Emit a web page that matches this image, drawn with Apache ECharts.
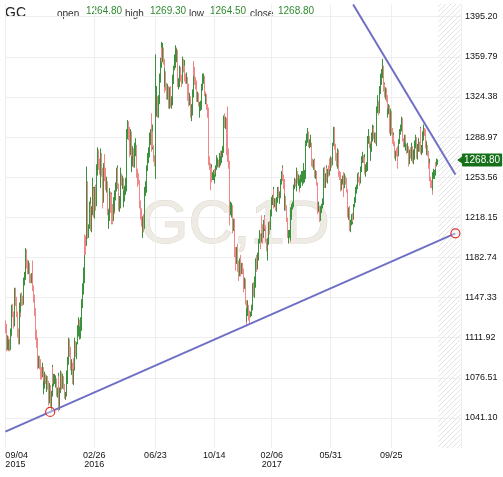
<!DOCTYPE html>
<html>
<head>
<meta charset="utf-8">
<script src="https://cdn.jsdelivr.net/npm/echarts@6/dist/echarts.min.js"></script>
<style>
html, body { margin: 0; padding: 0; background: #fff; }
#main { width: 503px; height: 477px; }
</style>
</head>
<body>
<div id="main"></div>
<script>
var symbolName = 'GC';
var watermark = 'GC,1D';
var firstDate = [2015, 9, 4];
var futureSlots = 31;
var holidays = ['2015-09-07', '2015-11-26', '2015-12-25', '2016-01-01', '2016-01-18', '2016-02-15',
    '2016-03-25', '2016-05-30', '2016-07-04', '2016-09-05', '2016-11-24', '2016-12-26', '2017-01-02',
    '2017-01-16', '2017-02-20', '2017-04-14', '2017-05-29', '2017-07-04', '2017-09-04', '2017-11-23',
    '2017-12-25', '2018-01-01', '2018-01-15', '2018-02-19'];
var tickDates = ['2015-09-04', '2016-02-26', '2016-06-23', '2016-10-14', '2017-02-06', '2017-05-31', '2017-09-25'];
var tickLabels = ['09/04\n2015', '02/26\n2016', '06/23', '10/14', '02/06\n2017', '05/31', '09/25'];
var yTicks = [1041.10, 1076.51, 1111.92, 1147.33, 1182.74, 1218.15, 1253.56, 1288.97, 1324.38, 1359.79, 1395.20];

// daily prices, one line per month
var opens = [
    1124,1122,1121,1104,1109,1103,1108,1103,1118,1118,1137,1133,1125,1131,1153,1145,1133,1127,
    1115,1114,1138,1137,1146,1145,1143,1156,1163,1167,1187,1186,1177,1172,1176,1167,1166,1163,1164,1166,1155,1147,
    1141,1136,1115,1106,1105,1089,1092,1089,1086,1082,1081,1084,1068,1070,1077,1076,1068,1075,1072,1057,
    1064,1068,1053,1062,1084,1074,1076,1076,1071,1075,1062,1063,1075,1049,1065,1080,1074,1069,1076,1069,1068,1060,
    1061,1075,1078,1092,1107,1097,1096,1085,1087,1073,1090,1089,1106,1097,1096,1107,1121,1125,1115,
    1118,1128,1128,1141,1157,1163,1198,1197,1195,1247,1237,1208,1210,1227,1227,1209,1224,1239,1241,1221,
    1238,1231,1241,1259,1271,1267,1262,1258,1272,1259,1249,1232,1264,1257,1256,1245,1248,1223,1219,1219,1237,1226,
    1234,1222,1218,1231,1229,1239,1243,1258,1260,1246,1226,1234,1235,1253,1248,1251,1231,1237,1242,1250,1266,
    1290,1295,1290,1280,1274,1294,1264,1265,1277,1264,1272,1274,1278,1256,1254,1252,1249,1228,1224,1222,1212,
    1215,1211,1210,1243,1246,1244,1262,1272,1275,1285,1287,1290,1279,1293,1281,1271,1266,1262,1315,1323,1312,1317,
    1320,1339,1356,1367,1362,1366,1356,1334,1343,1334,1327,1329,1332,1319,1330,1322,1318,1320,1341,1341,
    1350,1354,1366,1362,1363,1335,1335,1346,1349,1340,1338,1342,1356,1350,1351,1341,1339,1341,1328,1325,1321,1324,1317,
    1311,1313,1327,1350,1349,1339,1334,1329,1324,1325,1317,1310,1318,1318,1332,1337,1341,1341,1327,1322,1324,
    1316,1313,1269,1267,1263,1257,1260,1253,1254,1257,1251,1255,1262,1269,1267,1267,1264,1273,1267,1269,1276,
    1277,1289,1308,1302,1305,1281,1276,1274,1266,1226,1221,1225,1226,1216,1208,1214,1213,1188,1178,1190,1189,
    1173,1170,1177,1176,1170,1172,1171,1161,1158,1162,1142,1130,1134,1139,1131,1133,1130,1133,1139,1140,1158,
    1152,1163,1165,1181,1173,1185,1187,1197,1200,1196,1217,1211,1203,1210,1217,1210,1199,1190,1191,1196,
    1212,1209,1220,1220,1232,1236,1242,1228,1234,1229,1229,1233,1242,1238,1236,1237,1250,1257,1259,
    1252,1249,1234,1234,1227,1216,1210,1203,1203,1204,1199,1220,1227,1230,1233,1245,1249,1247,1249,1256,1252,1254,1244,
    1249,1253,1257,1249,1252,1254,1254,1274,1284,1289,1291,1291,1283,1283,1284,1276,1267,1264,1266,
    1268,1255,1257,1248,1228,1227,1227,1217,1219,1225,1228,1232,1237,1258,1246,1254,1261,1251,1259,1257,1268,1262,
    1269,1266,1280,1282,1298,1293,1280,1271,1268,1265,1276,1256,1255,1247,1244,1249,1252,1256,1246,1254,1250,1245,
    1242,1219,1225,1225,1213,1213,1215,1219,1218,1228,1234,1241,1242,1245,1255,1255,1252,1249,1260,1268,
    1269,1271,1269,1270,1258,1262,1262,1276,1284,1290,1283,1273,1279,1288,1291,1296,1289,1290,1287,1297,1315,1318,1313,
    1322,1330,1344,1344,1351,1351,1332,1334,1329,1329,1325,1310,1311,1316,1295,1297,1311,1294,1288,1288,
    1284,1271,1275,1276,1275,1274,1285,1292,1293,1296,1304,1303,1286,1283,1289,1280,1281,1277,1279,1267,1266,1277,
    1271,1277,1278,1269,1275,1276,1282,1285,1274,1278,1278,1283,1278,1296,1276,1276,1292,1288,1296,1293,1283,
    1276,1281,1275,1266,1266,1251,1248,1246,1243,1256,1257,1257,1265,1264,1264.8
];
var highs = [
    1127,1127,1124,1114,1113,1110,1111,1120,1124,1141,1142,1135,1134,1156,1156,1148,1135,1130,
    1120,1143,1142,1151,1152,1149,1158,1165,1170,1191,1190,1189,1181,1180,1178,1170,1168,1167,1169,1180,1158,1150,
    1143,1138,1119,1112,1110,1096,1096,1093,1089,1086,1090,1086,1074,1082,1080,1079,1078,1078,1074,1066,
    1072,1070,1065,1088,1086,1080,1080,1079,1078,1076,1068,1081,1078,1068,1083,1082,1076,1080,1078,1071,1070,1064,
    1083,1082,1095,1112,1111,1104,1098,1093,1090,1093,1094,1112,1109,1101,1108,1123,1130,1128,1122,
    1130,1132,1146,1160,1174,1200,1203,1202,1263,1250,1239,1212,1232,1236,1230,1228,1253,1245,1244,1245,
    1247,1243,1265,1280,1278,1270,1266,1279,1275,1262,1252,1266,1274,1262,1258,1254,1250,1226,1225,1244,1241,1240,
    1239,1230,1236,1234,1242,1249,1262,1264,1262,1248,1237,1239,1262,1257,1255,1253,1242,1246,1253,1269,1296,
    1304,1303,1298,1288,1296,1294,1272,1281,1279,1277,1284,1288,1282,1261,1258,1257,1251,1233,1229,1226,1219,
    1221,1220,1245,1250,1250,1264,1275,1280,1289,1293,1296,1310,1300,1294,1282,1273,1270,1362,1334,1325,1321,1326,
    1345,1359,1373,1368,1372,1368,1358,1350,1347,1337,1333,1336,1334,1333,1334,1326,1325,1344,1343,1352,
    1362,1370,1368,1367,1366,1341,1348,1352,1351,1344,1346,1360,1358,1357,1352,1345,1346,1342,1332,1336,1328,1325,1319,
    1318,1331,1353,1356,1351,1342,1339,1332,1329,1328,1320,1320,1321,1336,1344,1345,1345,1343,1329,1327,1327,
    1318,1315,1275,1272,1266,1265,1262,1258,1260,1261,1256,1264,1273,1271,1270,1269,1275,1277,1272,1277,1281,
    1291,1308,1310,1307,1306,1284,1316,1279,1268,1230,1232,1231,1229,1220,1217,1217,1214,1192,1192,1195,1190,
    1180,1182,1185,1179,1178,1178,1173,1165,1165,1164,1145,1138,1145,1141,1135,1136,1135,1141,1146,1160,1161,
    1166,1167,1182,1185,1187,1189,1199,1207,1204,1219,1220,1212,1216,1220,1219,1211,1199,1196,1200,1214,
    1215,1225,1224,1236,1238,1245,1243,1235,1235,1233,1236,1245,1245,1240,1241,1252,1259,1264,1262,
    1256,1252,1239,1237,1229,1218,1212,1207,1207,1207,1227,1230,1232,1235,1247,1253,1252,1251,1262,1259,1256,1255,1252,
    1256,1259,1259,1259,1266,1260,1275,1286,1292,1297,1293,1294,1287,1291,1284,1278,1270,1269,1270,
    1269,1260,1259,1249,1234,1232,1228,1221,1228,1230,1235,1241,1262,1263,1257,1264,1262,1261,1264,1270,1270,1272,
    1271,1283,1284,1298,1298,1296,1283,1275,1270,1279,1278,1259,1258,1248,1252,1255,1258,1258,1257,1255,1253,1248,
    1243,1227,1228,1228,1216,1221,1221,1222,1230,1236,1242,1245,1247,1257,1258,1257,1254,1263,1270,1272,
    1276,1273,1274,1271,1265,1267,1280,1290,1296,1290,1285,1283,1293,1300,1299,1298,1293,1293,1300,1316,1326,1321,1324,
    1334,1345,1349,1354,1358,1352,1337,1336,1333,1332,1326,1314,1318,1317,1300,1314,1312,1297,1293,1291,
    1285,1277,1279,1279,1281,1287,1295,1296,1300,1307,1306,1304,1288,1291,1291,1284,1283,1284,1281,1271,1278,1280,
    1281,1284,1281,1278,1284,1286,1291,1289,1280,1283,1288,1285,1298,1297,1282,1294,1293,1300,1297,1296,1286,
    1285,1282,1277,1270,1266,1254,1251,1249,1258,1261,1260,1266,1267,1270,1269.3
];
var lows = [
    1116,1116,1100,1101,1100,1101,1100,1101,1113,1114,1130,1120,1122,1129,1140,1130,1123,1112,
    1106,1106,1130,1134,1140,1140,1141,1152,1158,1163,1178,1173,1168,1168,1165,1160,1160,1161,1160,1153,1143,1137,
    1131,1110,1103,1101,1084,1085,1084,1082,1075,1075,1077,1065,1062,1067,1071,1065,1064,1066,1052,1054,
    1059,1051,1046,1060,1071,1069,1071,1068,1068,1060,1059,1060,1047,1048,1063,1071,1066,1067,1066,1062,1058,1057,
    1060,1071,1076,1088,1095,1093,1083,1079,1071,1070,1084,1083,1095,1093,1093,1106,1113,1110,1111,
    1111,1118,1124,1138,1150,1160,1185,1185,1193,1232,1199,1200,1208,1218,1206,1205,1220,1233,1218,1217,
    1224,1228,1239,1255,1260,1256,1256,1244,1254,1246,1226,1231,1250,1248,1242,1240,1220,1211,1208,1215,1222,1222,
    1212,1212,1215,1221,1223,1233,1241,1248,1243,1224,1223,1226,1233,1246,1243,1228,1227,1232,1238,1241,1265,
    1287,1286,1278,1271,1273,1261,1258,1263,1262,1262,1268,1272,1253,1245,1247,1247,1226,1219,1216,1210,1200,
    1205,1205,1208,1237,1240,1240,1259,1266,1271,1282,1282,1276,1278,1280,1267,1263,1252,1252,1307,1306,1306,1313,
    1318,1337,1350,1355,1355,1353,1328,1333,1330,1322,1322,1323,1314,1314,1320,1315,1314,1317,1336,1336,
    1348,1350,1357,1355,1333,1331,1333,1343,1338,1333,1336,1341,1346,1345,1338,1336,1336,1325,1321,1316,1317,1314,1306,
    1303,1308,1324,1343,1335,1331,1325,1320,1320,1316,1308,1306,1312,1313,1330,1333,1336,1325,1318,1318,1313,
    1306,1267,1264,1260,1242,1255,1249,1251,1251,1250,1248,1254,1260,1262,1263,1262,1262,1264,1264,1266,1271,
    1275,1286,1297,1296,1277,1273,1267,1261,1221,1211,1220,1218,1213,1204,1206,1206,1183,1171,1177,1184,1170,
    1162,1166,1169,1166,1168,1168,1158,1152,1155,1141,1122,1126,1131,1127,1127,1124,1130,1131,1136,1138,1148,
    1147,1156,1163,1170,1172,1180,1183,1195,1190,1196,1204,1195,1200,1206,1208,1196,1188,1180,1187,1194,
    1203,1207,1214,1219,1229,1234,1226,1227,1224,1223,1223,1231,1235,1232,1230,1235,1247,1253,1250,
    1243,1231,1224,1224,1214,1208,1200,1195,1200,1196,1198,1216,1225,1227,1231,1243,1245,1241,1246,1248,1246,1240,1243,
    1244,1249,1247,1246,1248,1249,1252,1272,1281,1284,1285,1280,1279,1280,1272,1263,1262,1260,1261,
    1253,1252,1246,1226,1221,1223,1214,1215,1216,1222,1226,1229,1235,1244,1244,1253,1249,1248,1254,1255,1260,1259,
    1262,1264,1277,1281,1288,1278,1268,1263,1262,1261,1254,1251,1245,1241,1242,1247,1249,1236,1244,1247,1242,1240,
    1218,1216,1221,1206,1205,1211,1212,1214,1216,1227,1231,1238,1239,1243,1251,1249,1246,1248,1258,1265,
    1266,1266,1265,1256,1254,1258,1259,1273,1283,1279,1271,1268,1276,1285,1288,1287,1284,1283,1281,1295,1310,1308,1310,
    1318,1327,1335,1341,1344,1329,1326,1324,1322,1320,1308,1306,1309,1292,1290,1295,1291,1283,1281,1281,
    1270,1268,1272,1272,1261,1272,1283,1288,1291,1294,1298,1285,1280,1280,1279,1277,1274,1275,1265,1263,1265,1270,
    1268,1273,1266,1265,1269,1274,1279,1270,1269,1273,1276,1276,1277,1274,1273,1275,1286,1286,1290,1279,1274,
    1273,1272,1261,1261,1250,1244,1244,1238,1242,1252,1252,1255,1261,1263,1264.5
];
var closes = [
    1121,1120,1103,1109,1103,1108,1103,1118,1117,1137,1133,1125,1131,1153,1145,1132,1127,1115,
    1114,1137,1137,1146,1145,1143,1156,1163,1166,1187,1186,1177,1172,1176,1167,1166,1163,1164,1166,1155,1147,1141,
    1136,1115,1106,1105,1088,1092,1089,1086,1082,1081,1084,1068,1070,1077,1076,1068,1075,1072,1057,1064,
    1068,1053,1061,1084,1074,1076,1076,1071,1075,1062,1063,1075,1049,1065,1080,1074,1069,1076,1069,1068,1060,1060,
    1075,1078,1091,1107,1097,1096,1085,1087,1073,1090,1089,1106,1097,1096,1107,1121,1125,1115,1118,
    1128,1128,1141,1157,1158,1198,1197,1195,1247,1239,1208,1210,1227,1231,1209,1224,1239,1241,1221,1238,
    1231,1241,1259,1271,1267,1262,1258,1272,1259,1249,1232,1264,1257,1256,1245,1248,1223,1219,1219,1237,1226,1234,
    1222,1218,1231,1229,1239,1243,1258,1260,1246,1226,1234,1235,1253,1248,1251,1231,1237,1242,1250,1266,1290,
    1295,1290,1280,1274,1294,1264,1265,1277,1264,1272,1274,1278,1256,1254,1252,1249,1228,1224,1222,1212,1215,
    1211,1210,1243,1246,1244,1262,1272,1275,1285,1287,1290,1279,1293,1281,1271,1266,1256,1315,1323,1312,1317,1320,
    1339,1356,1367,1362,1366,1356,1334,1343,1334,1327,1329,1332,1319,1330,1322,1318,1320,1341,1341,1350,
    1354,1366,1362,1363,1335,1335,1346,1349,1340,1338,1342,1356,1350,1351,1341,1339,1341,1328,1325,1321,1324,1317,1311,
    1313,1327,1350,1349,1339,1334,1329,1324,1325,1317,1310,1318,1318,1332,1337,1341,1341,1327,1322,1324,1316,
    1313,1269,1267,1263,1257,1260,1253,1254,1257,1251,1255,1262,1269,1267,1267,1264,1273,1267,1269,1276,1277,
    1289,1308,1302,1305,1281,1276,1274,1266,1226,1221,1225,1226,1216,1208,1214,1213,1188,1178,1190,1189,1173,
    1170,1177,1176,1170,1172,1171,1161,1158,1162,1142,1130,1134,1139,1131,1133,1130,1133,1139,1140,1158,1152,
    1163,1165,1181,1173,1185,1187,1197,1200,1196,1217,1211,1203,1210,1217,1210,1199,1190,1191,1196,1212,
    1209,1220,1220,1232,1236,1242,1228,1234,1229,1229,1233,1242,1238,1236,1237,1250,1257,1259,1252,
    1249,1234,1234,1227,1216,1210,1203,1203,1204,1199,1220,1227,1230,1233,1245,1249,1247,1249,1256,1252,1254,1244,1249,
    1253,1257,1249,1252,1254,1254,1274,1284,1289,1291,1291,1283,1283,1288,1276,1267,1264,1266,1268,
    1255,1257,1248,1228,1227,1227,1217,1219,1225,1228,1232,1237,1258,1246,1254,1261,1251,1259,1257,1268,1262,1269,
    1266,1280,1282,1298,1293,1280,1271,1268,1265,1276,1256,1255,1247,1244,1249,1252,1256,1246,1254,1250,1245,1242,
    1219,1225,1225,1213,1213,1215,1219,1218,1228,1234,1241,1242,1245,1255,1255,1252,1249,1260,1268,1269,
    1271,1269,1270,1258,1262,1262,1276,1284,1290,1283,1273,1279,1288,1291,1296,1289,1290,1287,1297,1315,1318,1313,1322,
    1330,1344,1344,1351,1351,1332,1334,1329,1329,1325,1310,1311,1316,1295,1297,1311,1294,1288,1288,1284,
    1271,1275,1276,1275,1274,1285,1292,1293,1296,1304,1303,1286,1283,1289,1280,1281,1277,1279,1267,1266,1277,1271,
    1277,1278,1269,1275,1276,1282,1285,1274,1278,1278,1283,1278,1296,1276,1276,1292,1288,1296,1293,1283,1276,
    1281,1275,1266,1266,1251,1248,1246,1243,1256,1257,1257,1265,1264,1268,1268.8
];

// trend lines drawn on the chart: [candle index, price]
var lowerTrend = [[0, 1029], [60, 1046.4], [603, 1204]];
var upperTrend = [[466, 1406], [603, 1256]];

function pad(n) { return (n < 10 ? '0' : '') + n; }

var dates = [];
var d = new Date(Date.UTC(firstDate[0], firstDate[1] - 1, firstDate[2]));
while (dates.length < closes.length + futureSlots) {
    var s = d.getUTCFullYear() + '-' + pad(d.getUTCMonth() + 1) + '-' + pad(d.getUTCDate());
    var wd = d.getUTCDay();
    if (wd !== 0 && wd !== 6 && holidays.indexOf(s) < 0) {
        dates.push(s);
    }
    d.setUTCDate(d.getUTCDate() + 1);
}

var tickIdx = tickDates.map(function (t) { return dates.indexOf(t); });
function isTick(i) { return tickIdx.indexOf(i) >= 0; }

var xData = dates.map(function (s, i) {
    return i === 0 ? { value: s, textStyle: { align: 'left' } } : s;
});

var candles = closes.map(function (c, i) {
    var o = opens[i];
    return [o, c, Math.min(lows[i], o, c), Math.max(highs[i], o, c)];
});

// hatched fill for the empty area after the last bar
var hatch = document.createElement('canvas');
hatch.width = 5;
hatch.height = 5;
var hctx = hatch.getContext('2d');
hctx.strokeStyle = '#e3e3e3';
hctx.lineWidth = 1;
hctx.beginPath();
hctx.moveTo(0, 5); hctx.lineTo(5, 0);
hctx.moveTo(-1, 1); hctx.lineTo(1, -1);
hctx.moveTo(4, 6); hctx.lineTo(6, 4);
hctx.stroke();

var last = closes.length - 1;
var upColor = '#3a923f';
var downColor = '#f08789';
var font = 'Liberation Sans, Arial, sans-serif';
var green = '#2f8a2f';
var labelGray = '#333';
var priceBox = '#16701a';

var header = [
    { text: symbolName, x: 5, y: 6, size: 14, color: '#222' },
    { text: 'open', x: 57, y: 9, size: 10, color: labelGray },
    { text: opens[last].toFixed(2), x: 86, y: 6, size: 10, color: green },
    { text: 'high', x: 125, y: 9, size: 10, color: labelGray },
    { text: highs[last].toFixed(2), x: 150, y: 6, size: 10, color: green },
    { text: 'low', x: 189, y: 9, size: 10, color: labelGray },
    { text: lows[last].toFixed(2), x: 210, y: 6, size: 10, color: green },
    { text: 'close', x: 250, y: 9, size: 10, color: labelGray },
    { text: closes[last].toFixed(2), x: 278, y: 6, size: 10, color: green }
];

var graphics = [{
    type: 'text',
    x: 235,
    y: 226,
    z: -10,
    silent: true,
    style: {
        text: watermark,
        font: '62px ' + font,
        fill: '#eeebe5',
        stroke: '#dcd7cd',
        lineWidth: 1,
        textAlign: 'center',
        textVerticalAlign: 'middle',
        align: 'center',
        verticalAlign: 'middle'
    }
}];
header.forEach(function (h) {
    graphics.push({
        type: 'text',
        x: h.x,
        y: h.y,
        silent: true,
        style: {
            text: h.text,
            font: h.size + 'px ' + font,
            fill: h.color,
            textAlign: 'left',
            textVerticalAlign: 'top',
            align: 'left',
            verticalAlign: 'top'
        }
    });
});

var chart = echarts.init(document.getElementById('main'));
var option = {
    animation: false,
    backgroundColor: '#fff',
    grid: { left: 5, right: 42, top: 4, bottom: 29 },
    xAxis: {
        type: 'category',
        data: xData,
        boundaryGap: true,
        axisLine: { show: false },
        axisTick: { show: false },
        axisLabel: {
            interval: isTick,
            formatter: function (value, index) {
                return tickLabels[tickIdx.indexOf(index)];
            },
            fontSize: 9,
            lineHeight: 9,
            fontFamily: font,
            color: '#111',
            margin: 3
        },
        splitLine: { show: true, interval: isTick, lineStyle: { color: '#eeeeee' } }
    },
    yAxis: {
        type: 'value',
        position: 'right',
        min: 1014.6,
        max: 1406.4,
        axisLine: { show: false },
        axisTick: { show: false, customValues: yTicks },
        axisLabel: {
            customValues: yTicks,
            formatter: function (v) { return v.toFixed(2); },
            fontSize: 9,
            fontFamily: font,
            color: '#111',
            margin: 4
        },
        splitLine: { show: true, lineStyle: { color: '#eeeeee' } }
    },
    series: [{
        type: 'candlestick',
        data: candles,
        itemStyle: {
            color: upColor,
            color0: downColor,
            borderColor: upColor,
            borderColor0: downColor,
            borderWidth: 1
        },
        markArea: {
            silent: true,
            itemStyle: { color: { image: hatch, repeat: 'repeat' } },
            data: [[{ xAxis: dates[closes.length] }, { xAxis: dates[dates.length - 1] }]]
        },
        markLine: {
            silent: true,
            symbol: ['none', 'none'],
            label: { show: false },
            lineStyle: { color: '#6f6fc6', width: 2, type: 'solid' },
            data: [
                [{ coord: lowerTrend[0] }, { coord: lowerTrend[2] }],
                [{ coord: upperTrend[0] }, { coord: upperTrend[1] }],
                {
                    yAxis: closes[last],
                    symbol: ['none', 'none'],
                    lineStyle: { color: 'rgba(0,0,0,0)', width: 0 },
                    label: {
                        show: true,
                        position: 'end',
                        distance: 1,
                        formatter: closes[last].toFixed(2),
                        color: '#fff',
                        fontSize: 10,
                        fontFamily: font,
                        backgroundColor: priceBox,
                        padding: [2, 2, 1, 2],
                        borderRadius: 1
                    }
                }
            ]
        },
        markPoint: {
            silent: true,
            label: { show: false },
            data: [
                {
                    coord: lowerTrend[1], symbol: 'circle', symbolSize: 9,
                    itemStyle: { color: 'rgba(255,255,255,0.4)', borderColor: '#e3302c', borderWidth: 1.2 }
                },
                {
                    coord: lowerTrend[2], symbol: 'circle', symbolSize: 9,
                    itemStyle: { color: 'rgba(255,255,255,0.4)', borderColor: '#e3302c', borderWidth: 1.2 }
                },
                {
                    coord: [dates.length - 1, closes[last]], symbol: 'triangle', symbolSize: [7, 5],
                    symbolRotate: 90, symbolOffset: [-1, 0],
                    itemStyle: { color: priceBox }
                }
            ]
        }
    }],
    graphic: graphics
};
chart.setOption(option);
</script>
</body>
</html>
